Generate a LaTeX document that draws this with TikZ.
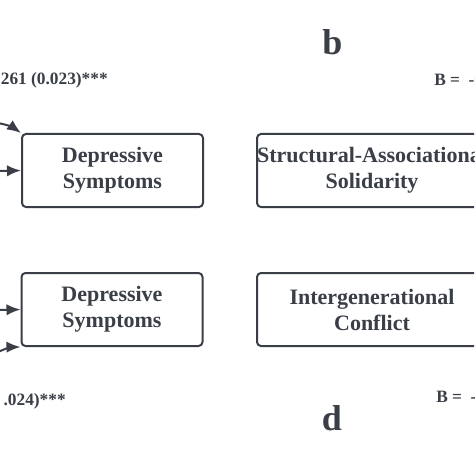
\documentclass[tikz,border=0pt]{standalone}
\usepackage{fontspec}
\setmainfont{Liberation Serif}
\usetikzlibrary{arrows.meta}
\definecolor{ink}{HTML}{3A3E46}
\tikzset{
  varbox/.style={draw=ink,line width=1.5pt,rounded corners=3pt,align=center,
    text=ink,font=\bfseries\fontsize{16.5}{19.5}\selectfont,inner sep=0pt},
  coef/.style={text=ink,font=\bfseries\fontsize{13}{14}\selectfont,inner sep=0pt},
  panel/.style={text=ink,font=\bfseries\fontsize{27}{30}\selectfont,inner sep=0pt},
  path/.style={draw=ink,line width=1.5pt,-{Latex[length=10.5pt,width=8.5pt]}}
}
\begin{document}
\begin{tikzpicture}[x=0.75pt,y=-0.75pt]
\useasboundingbox (0,0) rectangle (474,474);
\clip (0,0) rectangle (474,474);
\fill[white] (0,0) rectangle (474,474);
% boxes
\node[varbox,minimum width=181*0.75pt,minimum height=73*0.75pt] (depA) at (112.5,170.5) {Depressive\\Symptoms};
\node[varbox,minimum width=230*0.75pt,minimum height=73*0.75pt] (solid) at (372,170.5) {Structural-Associational\\Solidarity};
\node[varbox,minimum width=181*0.75pt,minimum height=73*0.75pt] (depB) at (112,309.5) {Depressive\\Symptoms};
\node[varbox,minimum width=230*0.75pt,minimum height=73*0.75pt] (conflict) at (372,309.5) {Intergenerational\\Conflict};
% incoming paths
\coordinate (inA1) at (-2,123);
\coordinate (inA2) at (-2,171);
\coordinate (inB1) at (-2,310);
\coordinate (inB2) at (-2,352);
\draw[path] (inA1) to[bend left=12] (depA.north west);
\draw[path] (inA2) -- (depA.west);
\draw[path] (inB1) -- (depB.west);
\draw[path] (inB2) to[bend left=12] (depB.south west);
% labels
\node[panel,anchor=base] (lblb) at (332.5,55) {b};
\node[panel,anchor=base] (lbld) at (332,430) {d};
\node[coef,anchor=base east] (cA) at (108,85) {261 (0.023)***};
\node[coef,anchor=base west] (cB) at (434,86) {B =\ \ -0};
\node[coef,anchor=base east] (cC) at (66,405) {.024)***};
\node[coef,anchor=base west] (cD) at (436,402) {B =\ \ -0};
\end{tikzpicture}
\end{document}
